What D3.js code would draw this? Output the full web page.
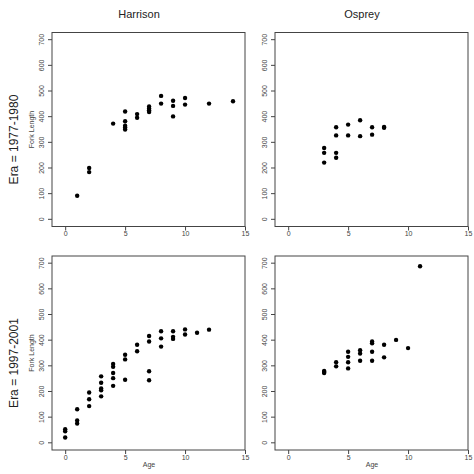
<!DOCTYPE html>
<html>
<head>
<meta charset="utf-8">
<script src="https://cdn.jsdelivr.net/npm/d3@7"></script>
<style>
  body { margin: 0; background: #fff; }
  svg { display: block; font-family: "Liberation Sans", Arial, sans-serif; }
</style>
</head>
<body>
<svg id="chart" width="474" height="474"></svg>
<script>
// data
let sites = ['Harrison', 'Osprey'];
let eras = ['Era = 1977-1980', 'Era = 1997-2001'];
let xTicks = [0, 5, 10, 15];
let yTicks = [0, 100, 200, 300, 400, 500, 600, 700];

let harrisonEarlyAge = [1, 2, 2, 4, 5, 5, 5, 5, 5, 6, 6, 7, 7, 7, 7, 8, 8, 9, 9, 9, 10, 10, 12, 14];
let harrisonEarlyLen = [92, 200, 184, 373, 420, 382, 365, 358, 350, 410, 396, 440, 432, 425, 418, 481, 451, 462, 442, 401, 473, 447, 451, 460];

let ospreyEarlyAge = [3, 3, 3, 4, 4, 4, 4, 5, 5, 6, 6, 7, 7, 8, 8];
let ospreyEarlyLen = [278, 259, 221, 359, 327, 259, 240, 369, 327, 386, 324, 359, 330, 357, 360];

let harrisonLateAge = [0, 0, 0, 1, 1, 1, 2, 2, 2, 3, 3, 3, 3, 3, 4, 4, 4, 4, 4, 5, 5, 5, 6, 6, 7, 7, 7, 7, 8, 8, 8, 9, 9, 9, 10, 10, 11, 12];
let harrisonLateLen = [53, 45, 21, 131, 87, 75, 196, 170, 143, 259, 234, 212, 205, 181, 307, 296, 272, 252, 222, 343, 325, 246, 382, 357, 416, 395, 279, 244, 435, 407, 375, 435, 413, 405, 442, 422, 429, 441];

let ospreyLateAge = [3, 3, 3, 4, 4, 5, 5, 5, 5, 6, 6, 6, 7, 7, 7, 7, 8, 8, 9, 10, 11];
let ospreyLateLen = [280, 276, 272, 314, 298, 355, 335, 314, 290, 361, 348, 320, 395, 388, 355, 320, 382, 333, 401, 369, 688];

let panels = [
    {row: 0, col: 0, age: harrisonEarlyAge, len: harrisonEarlyLen},
    {row: 0, col: 1, age: ospreyEarlyAge, len: ospreyEarlyLen},
    {row: 1, col: 0, age: harrisonLateAge, len: harrisonLateLen},
    {row: 1, col: 1, age: ospreyLateAge, len: ospreyLateLen}
];

let svg = d3.select('#chart');
let colX = [52, 275];
let rowY = [32.5, 256];
let pw = 194, ph = 194;
let axisCol = '#444';
let textCol = '#444';

//column titles
sites.forEach(function (s, i) {
    svg.append('text')
        .attr('x', colX[i] + pw / 2 - 10)
        .attr('y', 18)
        .attr('text-anchor', 'middle')
        .style('font-size', '11px')
        .style('fill', '#222')
        .text(s);
});
//row labels
eras.forEach(function (e, i) {
    let cy = rowY[i] + ph / 2 + 10;
    svg.append('text')
        .attr('transform', 'translate(18,' + cy + ') rotate(-90)')
        .attr('text-anchor', 'middle')
        .style('font-size', '12px')
        .style('fill', '#222')
        .text(e);
});

panels.forEach(function (p) {
    let x0 = colX[p.col], y0 = rowY[p.row];
    let x = d3.scaleLinear().domain([-1.1, 15]).range([x0, x0 + pw - 1]);
    let y = d3.scaleLinear().domain([-28, 728]).range([y0 + ph, y0]);
    let g = svg.append('g');

    //x axis
    let xa = g.append('g')
        .attr('transform', 'translate(0,' + (y0 + ph) + ')')
        .call(d3.axisBottom(x).tickValues(xTicks).tickSize(4).tickPadding(1));
    //y axis
    let ya = g.append('g')
        .attr('transform', 'translate(' + x0 + ',0)')
        .call(d3.axisLeft(y).tickValues(yTicks).tickSize(4));
    [xa, ya].forEach(function (a) {
        a.select('.domain').remove();
        a.selectAll('line').attr('stroke', axisCol);
        a.selectAll('text')
            .style('font-size', '7px')
            .style('fill', textCol)
            .style('font-family', '"Liberation Sans", Arial, sans-serif');
    });
    //rotate y tick labels like R's las=0
    ya.selectAll('.tick').attr('transform', null);
    ya.selectAll('.tick line').attr('y1', function (d) { return y(d); }).attr('y2', function (d) { return y(d); });
    ya.selectAll('.tick text')
        .attr('x', null).attr('y', 0).attr('dy', null)
        .attr('text-anchor', 'middle')
        .attr('transform', function (d) { return 'translate(-8,' + y(d) + ') rotate(-90)'; });

    //box
    g.append('rect')
        .attr('x', x0).attr('y', y0)
        .attr('width', pw - 1).attr('height', ph)
        .attr('fill', 'none')
        .attr('stroke', axisCol)
        .attr('stroke-width', 1);

    //points
    g.selectAll('circle')
        .data(p.age.map(function (a, i) { return [a, p.len[i]]; }))
        .enter()
        .append('circle')
        .attr('cx', function (d) { return x(d[0]); })
        .attr('cy', function (d) { return y(d[1]); })
        .attr('r', 2.2)
        .attr('fill', '#000');

    if (p.col === 0) {
        g.append('text')
            .attr('transform', 'translate(' + (x0 - 18) + ',' + (y0 + ph / 2) + ') rotate(-90)')
            .attr('text-anchor', 'middle')
            .style('font-size', '7px')
            .style('fill', textCol)
            .text('Fork Length');
    }
    if (p.row === 1) {
        g.append('text')
            .attr('x', x0 + pw / 2)
            .attr('y', y0 + ph + 17)
            .attr('text-anchor', 'middle')
            .style('font-size', '7px')
            .style('fill', textCol)
            .text('Age');
    }
});
</script>
</body>
</html>
